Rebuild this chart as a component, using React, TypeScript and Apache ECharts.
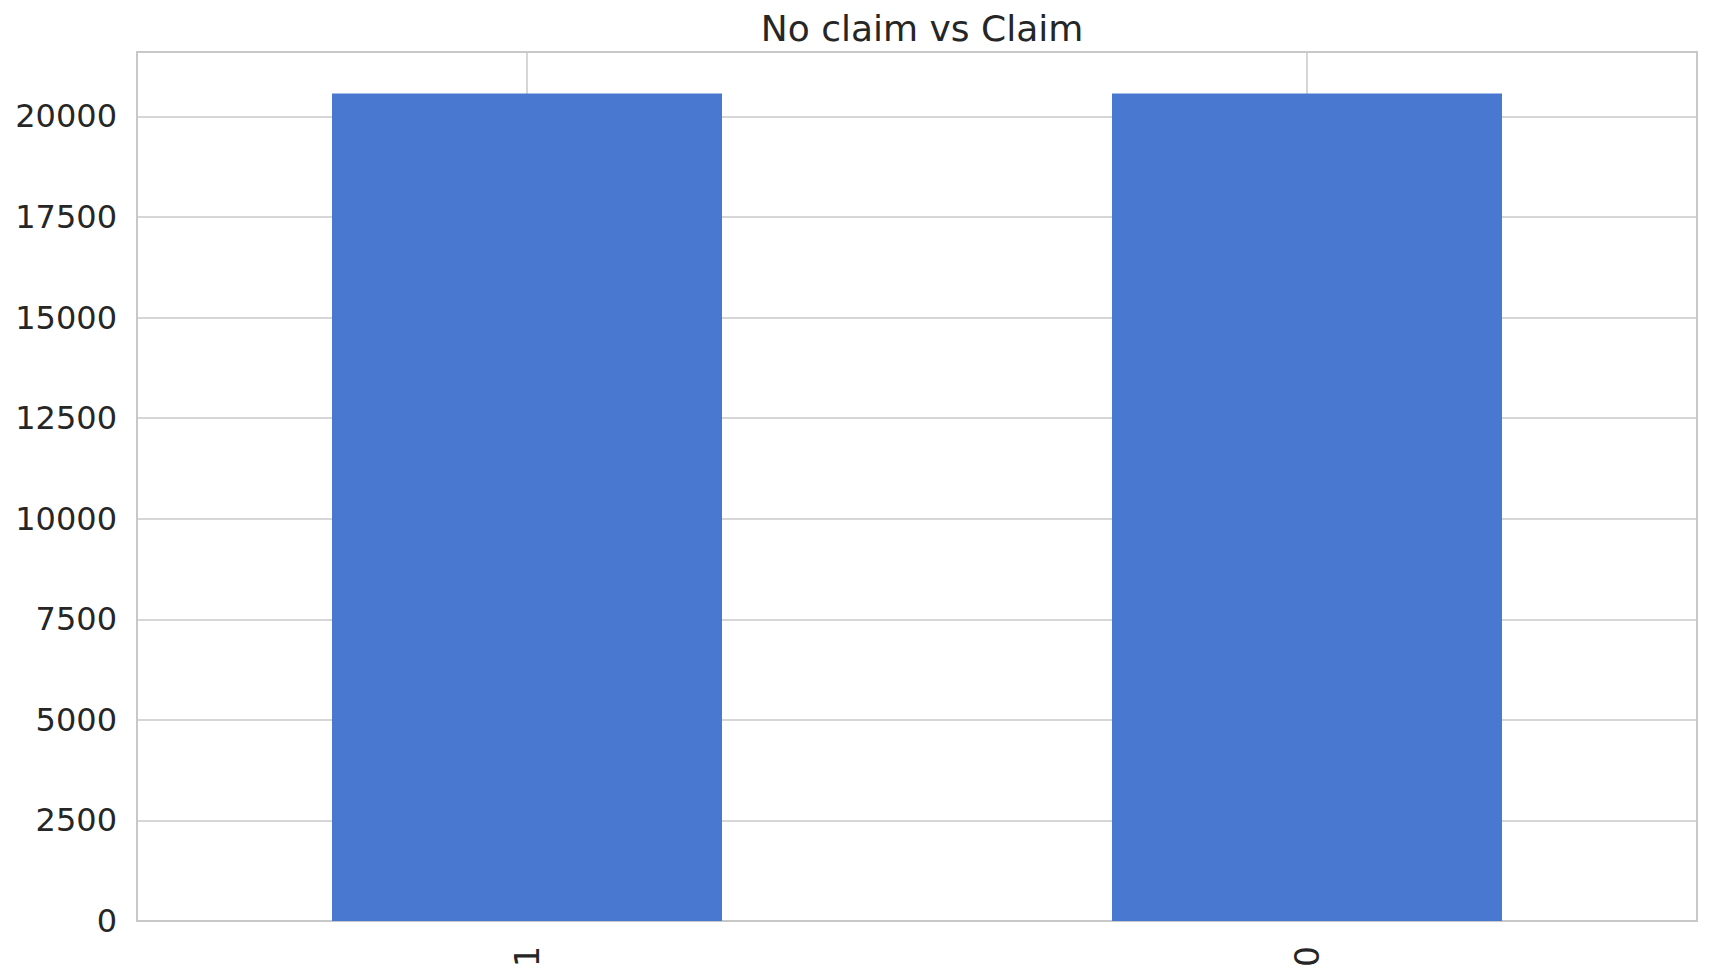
import React, { useEffect, useRef } from "react";
import * as echarts from "echarts";

const categories = ["1", "0"];
const counts = [20571, 20571];
const yTicks = [0, 2500, 5000, 7500, 10000, 12500, 15000, 17500, 20000];
const yMax = 21600;
const titleText = "No claim vs Claim";

export default function App() {
  const ref = useRef<HTMLDivElement>(null);
  useEffect(() => {
    document.body.style.margin = "0";
    const chart = echarts.init(ref.current!, null, { renderer: "svg" });
    const font = "DejaVu Sans";
    chart.setOption({
      animation: false,
      backgroundColor: "#ffffff",
      title: {
        text: titleText,
        left: 917,
        top: 23,
        textAlign: "center",
        textVerticalAlign: "middle",
        textStyle: { fontFamily: font, fontSize: 36, fontWeight: "normal", color: "#262626" },
      },
      grid: {
        left: 137,
        right: 23,
        top: 52,
        bottom: 55,
        show: true,
        borderColor: "#c8c8c8",
        borderWidth: 2,
        backgroundColor: "transparent",
      },
      xAxis: {
        type: "category",
        data: categories,
        axisLine: { show: false },
        axisTick: { show: false, alignWithLabel: true },
        splitLine: { show: true, alignWithLabel: true, lineStyle: { color: "#c8c8c8", width: 1.5 } },
        axisLabel: {
          rotate: 90,
          margin: 25,
          fontFamily: font,
          fontSize: 33,
          color: "#262626",
        },
      },
      yAxis: {
        type: "value",
        min: 0,
        max: yMax,
        interval: 2500,
        axisLine: { show: false },
        axisTick: { show: false },
        splitLine: { show: true, lineStyle: { color: "#c8c8c8", width: 1.5 } },
        axisLabel: {
          margin: 20,
          fontFamily: font,
          fontSize: 32,
          color: "#262626",
          formatter: (v: number) => (yTicks.includes(v) ? String(v) : ""),
        },
      },
      series: [
        {
          type: "bar",
          data: counts,
          barCategoryGap: "50%",
          itemStyle: { color: "#4878cf" },
        },
      ],
    });
    return () => chart.dispose();
  }, []);
  return <div ref={ref} style={{ width: 1720, height: 976 }} />;
}
